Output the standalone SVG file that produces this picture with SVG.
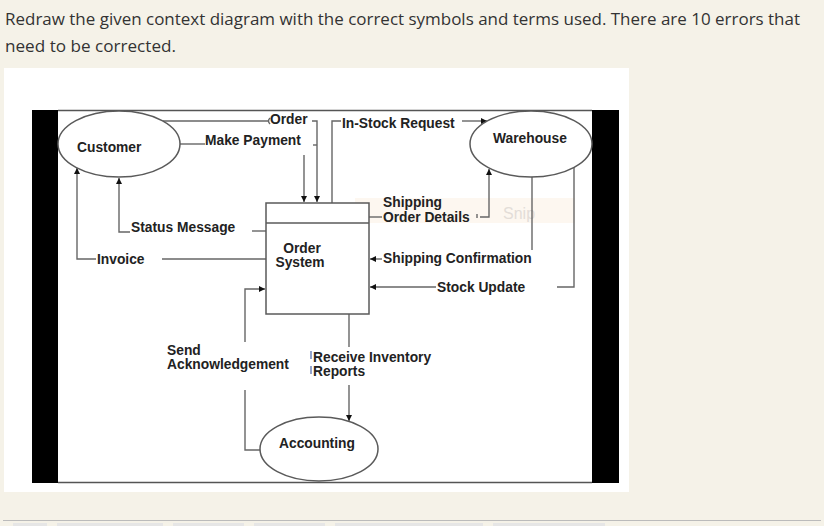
<svg xmlns="http://www.w3.org/2000/svg" width="824" height="526" viewBox="0 0 824 526">
<style>
.t{font-family:"Liberation Sans",Arial,sans-serif;font-weight:bold;font-size:13.8px;fill:#222}
.h{font-family:"Open Sans","Noto Sans",sans-serif;font-size:17px;fill:#333}
.c{fill:none;stroke:#666;stroke-width:1.4}
.n{fill:#fff;stroke:#5a5a5a;stroke-width:1.5}
</style>
<defs>
<marker id="ar" viewBox="0 0 10 10" refX="10" refY="5" markerWidth="6" markerHeight="6" orient="auto" markerUnits="userSpaceOnUse">
<path d="M0,0 L10,5 L0,10 z" fill="#111"/>
</marker>
</defs>
<rect x="0" y="0" width="824" height="526" fill="#f5f2e8"/>
<text class="h" x="5" y="25" textLength="795" lengthAdjust="spacingAndGlyphs">Redraw the given context diagram with the correct symbols and terms used. There are 10 errors that</text>
<text class="h" x="5" y="52" textLength="171" lengthAdjust="spacingAndGlyphs">need to be corrected.</text>
<rect x="4" y="68" width="625" height="424" fill="#fff"/>
<rect x="32" y="110" width="26" height="373" fill="#000"/>
<rect x="592" y="110" width="27" height="373" fill="#000"/>
<line x1="58" y1="110.5" x2="592" y2="110.5" stroke="#555" stroke-width="1.5"/>
<line x1="58" y1="482.5" x2="592" y2="482.5" stroke="#555" stroke-width="1.5"/>
<rect x="355" y="198" width="220" height="25" fill="#fdf7f0"/>
<text x="503" y="219" font-family="Liberation Sans,Arial,sans-serif" font-size="16" fill="#e3ddd8">Snip</text>
<g id="connectors">
<polyline class="c" points="163,121 268,121"/>
<path class="c" d="M270,118 q-3,3 0,6"/>
<polyline class="c" points="312,121 317,121 317,202" marker-end="url(#ar)"/>
<line class="c" x1="313" y1="145" x2="317" y2="145"/>
<polyline class="c" points="180,144 205,144"/>
<polyline class="c" points="304,155 304,202" marker-end="url(#ar)"/>
<polyline class="c" points="332,203 332,121 341,121"/>
<polyline class="c" points="462,121 487,121" marker-end="url(#ar)"/>
<polyline class="c" points="369,217 382,217"/>
<line class="c" x1="477" y1="214" x2="477" y2="218"/>
<polyline class="c" points="480,217 489,217 489,169" marker-end="url(#ar)"/>
<polyline class="c" points="532,177 532,250"/>
<polyline class="c" points="382,259 370,259" marker-end="url(#ar)"/>
<polyline class="c" points="574,167 574,287 557,287"/>
<polyline class="c" points="436,287 370,287" marker-end="url(#ar)"/>
<polyline class="c" points="130,232 119,232 119,178" marker-end="url(#ar)"/>
<polyline class="c" points="252,231 266,231"/>
<polyline class="c" points="96,259 77,259 77,168" marker-end="url(#ar)"/>
<polyline class="c" points="162,259 266,259"/>
<polyline class="c" points="260,450 245,450 245,390"/>
<polyline class="c" points="245,342 245,289 265,289" marker-end="url(#ar)"/>
<polyline class="c" points="349,314 349,347"/>
<polyline class="c" points="349,385 349,421" marker-end="url(#ar)"/>
<line x1="311" y1="351" x2="311" y2="359" stroke="#4a66a8" stroke-width="1.2"/>
<line x1="311" y1="366" x2="311" y2="374" stroke="#4a66a8" stroke-width="1.2"/>
</g>
<g id="customer">
<ellipse class="n" cx="119" cy="144" rx="61" ry="33"/>
<text class="t" x="77" y="152">Customer</text>
</g>
<g id="warehouse">
<ellipse class="n" cx="531" cy="144" rx="61" ry="33"/>
<text class="t" x="493" y="143">Warehouse</text>
</g>
<g id="order-system">
<rect class="n" x="266" y="203" width="103" height="111"/>
<line x1="266" y1="223" x2="369" y2="223" stroke="#5a5a5a" stroke-width="1.5"/>
<text class="t" x="302" y="253" text-anchor="middle">Order</text>
<text class="t" x="300" y="267" text-anchor="middle">System</text>
</g>
<g id="accounting">
<ellipse class="n" cx="319" cy="449" rx="59" ry="32"/>
<text class="t" x="279" y="448">Accounting</text>
</g>
<g id="labels">
<text class="t" x="270" y="124">Order</text>
<text class="t" x="205" y="145">Make Payment</text>
<text class="t" x="342" y="128">In-Stock Request</text>
<text class="t" x="383" y="207">Shipping</text>
<text class="t" x="383" y="222">Order Details</text>
<text class="t" x="131" y="232">Status Message</text>
<text class="t" x="97" y="264">Invoice</text>
<text class="t" x="383" y="263">Shipping Confirmation</text>
<text class="t" x="437" y="292">Stock Update</text>
<text class="t" x="167" y="355">Send</text>
<text class="t" x="167" y="369">Acknowledgement</text>
<text class="t" x="313" y="362">Receive Inventory</text>
<text class="t" x="313" y="376">Reports</text>
</g>
<line x1="3" y1="520.5" x2="821" y2="520.5" stroke="#bbb" stroke-width="1"/>
<g fill="#e6e6e6">
<rect x="13" y="523" width="34" height="3"/>
<rect x="57" y="523" width="106" height="3"/>
<rect x="173" y="523" width="71" height="3"/>
<rect x="254" y="523" width="71" height="3"/>
<rect x="335" y="523" width="148" height="3"/>
<rect x="493" y="523" width="112" height="3"/>
</g>
</svg>
